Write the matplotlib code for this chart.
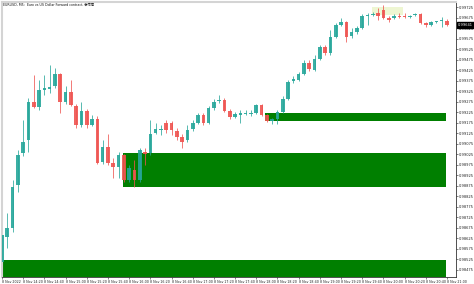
import matplotlib
matplotlib.use('Agg')
import matplotlib.pyplot as plt
import matplotlib.transforms as mtransforms
from matplotlib.patches import Rectangle
import numpy as np

plt.rcParams['font.family'] = ['DejaVu Sans', 'Noto Sans CJK SC']

# EURUSD M5 candles
opens = [0.98512, 0.98631, 0.98674, 0.98879, 0.99031, 0.99093, 0.99274, 0.99250, 0.99331, 0.99336,
         0.99350, 0.99408, 0.99274, 0.99322, 0.99255, 0.99165, 0.99231, 0.99165, 0.99193, 0.98989,
         0.99060, 0.98984, 0.98965, 0.99022, 0.98903, 0.98950, 0.98903, 0.99036, 0.99031, 0.99127,
         0.99141, 0.99174, 0.99174, 0.99136, 0.99108, 0.99093, 0.99146, 0.99174, 0.99212, 0.99174,
         0.99246, 0.99279, 0.99284, 0.99231, 0.99203, 0.99212, 0.99217, 0.99217, 0.99222, 0.99260,
         0.99212, 0.99184, 0.99193, 0.99227, 0.99289, 0.99374, 0.99379, 0.99408, 0.99460, 0.99427,
         0.99479, 0.99536, 0.99508, 0.99584, 0.99641, 0.99655, 0.99589, 0.99608, 0.99627, 0.99684,
         0.99689, 0.99698, 0.99712, 0.99674, 0.99674, 0.99684, 0.99684, 0.99679, 0.99689, 0.99693,
         0.99650, 0.99641, 0.99655, 0.99660, 0.99660]
closes = [0.98641, 0.98674, 0.98870, 0.99022, 0.99084, 0.99274, 0.99250, 0.99331, 0.99341, 0.99346,
          0.99408, 0.99274, 0.99322, 0.99260, 0.99165, 0.99231, 0.99165, 0.99193, 0.98984, 0.99060,
          0.98984, 0.98965, 0.99022, 0.98903, 0.98960, 0.98903, 0.99046, 0.99027, 0.99122, 0.99146,
          0.99146, 0.99141, 0.99141, 0.99108, 0.99084, 0.99141, 0.99174, 0.99212, 0.99174, 0.99246,
          0.99274, 0.99284, 0.99231, 0.99203, 0.99217, 0.99222, 0.99222, 0.99222, 0.99260, 0.99212,
          0.99184, 0.99193, 0.99227, 0.99289, 0.99370, 0.99384, 0.99408, 0.99460, 0.99431, 0.99479,
          0.99536, 0.99508, 0.99584, 0.99641, 0.99655, 0.99584, 0.99608, 0.99627, 0.99684, 0.99689,
          0.99693, 0.99684, 0.99674, 0.99665, 0.99684, 0.99679, 0.99679, 0.99684, 0.99693, 0.99650,
          0.99641, 0.99655, 0.99655, 0.99665, 0.99641]
highs = [0.98655, 0.98746, 0.98903, 0.99046, 0.99189, 0.99293, 0.99403, 0.99379, 0.99403, 0.99450,
         0.99436, 0.99412, 0.99350, 0.99379, 0.99265, 0.99274, 0.99241, 0.99212, 0.99208, 0.99093,
         0.99122, 0.99008, 0.99036, 0.99027, 0.98974, 0.98998, 0.99055, 0.99055, 0.99189, 0.99174,
         0.99165, 0.99189, 0.99184, 0.99150, 0.99122, 0.99165, 0.99189, 0.99222, 0.99222, 0.99255,
         0.99289, 0.99308, 0.99293, 0.99241, 0.99227, 0.99236, 0.99236, 0.99236, 0.99265, 0.99265,
         0.99217, 0.99198, 0.99236, 0.99303, 0.99379, 0.99398, 0.99417, 0.99474, 0.99474, 0.99498,
         0.99546, 0.99546, 0.99617, 0.99650, 0.99674, 0.99660, 0.99627, 0.99636, 0.99693, 0.99698,
         0.99703, 0.99722, 0.99736, 0.99684, 0.99693, 0.99698, 0.99698, 0.99689, 0.99698, 0.99698,
         0.99655, 0.99660, 0.99660, 0.99679, 0.99670]
lows = [0.98465, 0.98579, 0.98655, 0.98846, 0.99017, 0.99036, 0.99246, 0.99236, 0.99308, 0.99317,
        0.99341, 0.99222, 0.99265, 0.99255, 0.99150, 0.99155, 0.99150, 0.99160, 0.98979, 0.98979,
        0.98974, 0.98912, 0.98912, 0.98893, 0.98893, 0.98870, 0.98893, 0.98974, 0.99022, 0.99122,
        0.99117, 0.99127, 0.99117, 0.99093, 0.99055, 0.99084, 0.99136, 0.99170, 0.99165, 0.99170,
        0.99236, 0.99270, 0.99227, 0.99193, 0.99198, 0.99174, 0.99212, 0.99208, 0.99217, 0.99208,
        0.99179, 0.99170, 0.99170, 0.99222, 0.99284, 0.99365, 0.99374, 0.99403, 0.99422, 0.99422,
        0.99474, 0.99498, 0.99498, 0.99579, 0.99636, 0.99560, 0.99579, 0.99598, 0.99622, 0.99641,
        0.99684, 0.99665, 0.99670, 0.99655, 0.99670, 0.99674, 0.99674, 0.99674, 0.99684, 0.99646,
        0.99631, 0.99636, 0.99650, 0.99631, 0.99636]

# demand zones (green) and the small supply zone at the top
zone_start = [49.6, 22.8, 0.0]
zone_end = [83.8, 83.8, 83.8]
zone_low = [0.99184, 0.98870, 0.98400]
zone_high = [0.99222, 0.99031, 0.98522]
supply_start, supply_end = 69.8, 75.7
supply_low, supply_high = 0.99689, 0.99727

xtick_pos = [0, 4, 8, 12, 16, 20, 24, 28, 32, 36, 40, 44, 48, 52, 56, 60, 64, 68, 72, 76, 80, 84]
xtick_labels = ['8 Nov 2022', '8 Nov 14:20', '8 Nov 14:40', '8 Nov 15:00', '8 Nov 15:20',
                '8 Nov 15:40', '8 Nov 16:00', '8 Nov 16:20', '8 Nov 16:40', '8 Nov 17:00',
                '8 Nov 17:20', '8 Nov 17:40', '8 Nov 18:00', '8 Nov 18:20', '8 Nov 18:40',
                '8 Nov 19:00', '8 Nov 19:20', '8 Nov 19:40', '8 Nov 20:00', '8 Nov 20:20',
                '8 Nov 20:40', '8 Nov 21:00']
ytick_vals = [0.98475, 0.98525, 0.98575, 0.98625, 0.98675, 0.98725, 0.98775, 0.98825, 0.98875,
              0.98925, 0.98975, 0.99025, 0.99075, 0.99125, 0.99175, 0.99225, 0.99275, 0.99325,
              0.99375, 0.99425, 0.99475, 0.99525, 0.99575, 0.99625, 0.99675, 0.99725]

title = 'EURUSD, M5:  Euro vs US Dollar Forward contract, 做市商'

up_col = '#26a69a'
dn_col = '#ef5350'

fig = plt.figure(figsize=(4.74, 2.84), dpi=100)
ax = fig.add_axes([2 / 474, 7 / 284, 454 / 474, 275 / 284])

for s, e, lo, hi in zip(zone_start, zone_end, zone_low, zone_high):
    ax.add_patch(Rectangle((s, lo), e - s, hi - lo, color='#007f00', zorder=1, lw=0))
ax.add_patch(Rectangle((supply_start, supply_low), supply_end - supply_start,
                       supply_high - supply_low, color='#eef6d2', zorder=1, lw=0))

x = np.arange(len(opens))
o = np.array(opens)
c = np.array(closes)
cols = [up_col if cc >= oo else dn_col for oo, cc in zip(o, c)]
ax.vlines(x, lows, highs, colors=cols, lw=0.6, zorder=2, alpha=0.9)
body = np.maximum(np.abs(c - o), 0.000025)
ax.bar(x, body, bottom=np.minimum(o, c), width=0.68, color=cols, lw=0, zorder=3, alpha=0.9)

ax.set_xlim(0.0, 85.7)
ax.set_ylim(0.98441, 0.99750)

ax.set_xticks(xtick_pos)
ax.set_xticklabels(xtick_labels)
for lab in ax.get_xticklabels():
    lab.set_horizontalalignment('left')

ax.set_yticks(ytick_vals)
ax.set_yticklabels(['%.5f' % v for v in ytick_vals])
ax.yaxis.tick_right()
ax.tick_params(axis='both', length=1.2, width=0.4, pad=0.8, colors='#222222')
ax.tick_params(axis='x', labelsize=2.3)
ax.tick_params(axis='y', labelsize=2.6)

for side in ['left', 'top']:
    ax.spines[side].set_color('#d4d4d4')
    ax.spines[side].set_linewidth(1.5)
for side in ['right', 'bottom']:
    ax.spines[side].set_color('#333333')
    ax.spines[side].set_linewidth(0.6)

# current price tag on the price axis
trans = mtransforms.blended_transform_factory(ax.transAxes, ax.transData)
ax.text(1.004, closes[-1], '%.5f' % closes[-1], transform=trans, fontsize=2.6, color='white',
        va='center', ha='left', zorder=5,
        bbox=dict(boxstyle='square,pad=0.25', fc='black', ec='black'))

ax.text(0.003, 0.995, title, transform=ax.transAxes, fontsize=2.3, va='top', ha='left', color='#111111')

fig.savefig('out.png', dpi=100, facecolor='white')
